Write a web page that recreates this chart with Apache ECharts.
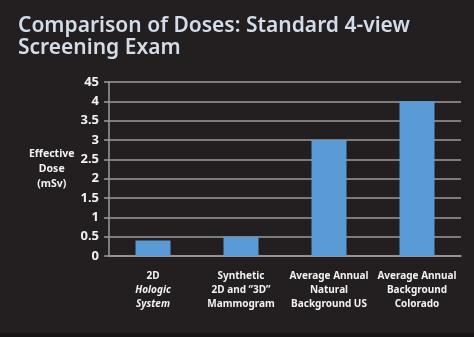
<!DOCTYPE html>
<html><head><meta charset="utf-8">
<script src="https://cdn.jsdelivr.net/npm/echarts@6/dist/echarts.min.js"></script>
<style>html,body{margin:0;padding:0;background:#231f20;}#c{width:474px;height:337px;}</style>
</head><body><div id="c"></div>
<script>
const titleText = 'Comparison of Doses: Standard 4-view\nScreening Exam';
const categories = ['2D\n{i|Hologic}\n{i|System}', 'Synthetic\n2D and \u201C3D\u201D\nMammogram', 'Average Annual\nNatural\nBackground US', 'Average Annual\nBackground\nColorado'];
const doses = [0.4, 0.5, 3.0, 4.0];
const yTickValues = [0, 0.5, 1, 1.5, 2, 2.5, 3, 3.5, 4, 4.5];
const yTickLabels = ['0', '0.5', '1', '1.5', '2', '2.5', '3', '3.5', '4', '45'];
const yName = 'Effective\nDose\n(mSv)';

const chart = echarts.init(document.getElementById('c'));
chart.setOption({
  backgroundColor: '#231f20',
  animation: false,
  graphic: [{ type: 'rect', left: 0, bottom: 0, shape: { width: 474, height: 4 }, style: { fill: '#171415' }, silent: true }],
  title: {
    text: titleText, left: 13, top: 10,
    textStyle: { color: '#d3dce8', fontFamily: 'Noto Sans', fontWeight: 600, fontSize: 21, lineHeight: 22 }
  },
  grid: { left: 109, right: 13, top: 82, bottom: 81 },
  xAxis: {
    type: 'category', data: categories,
    axisLine: { show: true, lineStyle: { color: '#9c9c9c', width: 1.5 } },
    axisTick: { show: false },
    axisLabel: {
      color: '#f2f2f2', fontFamily: 'Noto Sans', fontWeight: 'bold', fontSize: 10, lineHeight: 14, margin: 13, interval: 0,
      rich: { i: { fontStyle: 'italic', fontWeight: 'bold', color: '#f2f2f2', fontFamily: 'Noto Sans', fontSize: 10, lineHeight: 14 } }
    }
  },
  yAxis: {
    type: 'value', min: 0, max: 4.5, interval: 0.5,
    name: yName, nameLocation: 'middle', nameRotate: 0, nameGap: 57,
    nameTextStyle: { color: '#f2f2f2', fontFamily: 'Noto Sans', fontWeight: 'bold', fontSize: 10.5, lineHeight: 15, align: 'center' },
    axisLine: { show: true, lineStyle: { color: '#9c9c9c', width: 1.5 } },
    axisTick: { show: true, length: 5, lineStyle: { color: '#9c9c9c', width: 1.5 } },
    splitLine: { lineStyle: { color: '#9c9c9c', width: 1.5 } },
    axisLabel: {
      color: '#f2f2f2', fontFamily: 'Noto Sans', fontWeight: 'bold', fontSize: 13, margin: 10,
      formatter: function (v) { const i = yTickValues.indexOf(+v.toFixed(2)); return i >= 0 ? yTickLabels[i] : ''; }
    }
  },
  series: [{
    type: 'bar', data: doses, barWidth: 35,
    itemStyle: { color: '#5b9bd5' }
  }]
});
</script></body></html>
